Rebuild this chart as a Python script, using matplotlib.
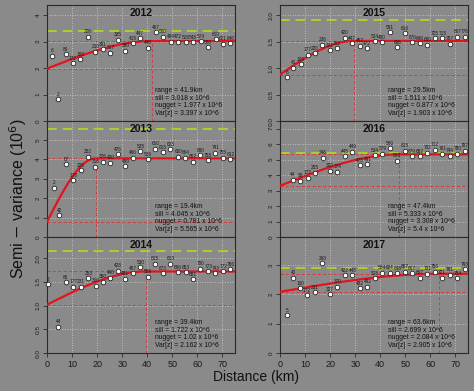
import numpy as np
import matplotlib
matplotlib.use('Agg')
import matplotlib.pyplot as plt
from matplotlib.ticker import MultipleLocator, FormatStrFormatter

plt.rcParams['font.family'] = ['Liberation Sans', 'DejaVu Sans']

# experimental semivariograms (lag km, semivariance 10^6, number of pairs)
lag_2012 = [1.9, 4.5, 7.5, 10.3, 13.3, 16.3, 19.3, 22.3, 25.3, 28.4, 31.3, 34.3, 37.2,
            40.3, 43.3, 46.3, 49.3, 52.3, 55.3, 58.3, 61.3, 64.3, 67.3, 70.3, 73.2]
gamma_2012 = [2.47, 0.82, 2.52, 2.18, 2.34, 3.18, 2.62, 2.70, 2.58, 3.07, 2.65, 2.93, 3.12,
              2.77, 3.35, 3.18, 2.99, 2.99, 2.97, 2.97, 3.02, 2.78, 3.08, 2.92, 2.94]
npairs_2012 = [8, 2, 80, 172, 180, 208, 210, 301, 317, 335, 380, 415, 447,
               448, 467, 500, 494, 472, 526, 548, 574, 580, 610, 621, 646]

lag_2013 = [2.7, 4.9, 7.6, 10.5, 13.6, 16.4, 19.3, 22.4, 25.3, 28.4, 31.3, 34.3, 37.3,
            40.3, 43.2, 46.3, 49.2, 52.3, 55.2, 58.3, 61.2, 64.3, 67.2, 70.1, 73.2]
gamma_2013 = [2.53, 1.12, 3.75, 2.92, 3.44, 4.12, 3.61, 3.87, 3.81, 4.26, 3.64, 4.07, 4.42,
              4.00, 4.55, 4.35, 4.52, 4.12, 4.09, 3.87, 4.21, 3.95, 4.33, 4.09, 4.00]
npairs_2013 = [2, 42, 87, 178, 229, 252, 316, 376, 420, 476, 499, 466, 535,
               539, 610, 615, 623, 600, 664, 652, 690, 758, 741, 755, 812]

lag_2014 = [0.4, 4.5, 7.5, 10.5, 13.5, 16.5, 19.5, 22.4, 25.3, 28.4, 31.3, 34.3, 37.2,
            40.3, 43.2, 46.3, 49.2, 52.3, 55.3, 58.3, 61.2, 64.3, 67.2, 70.3, 73.2]
gamma_2014 = [1.45, 0.55, 1.49, 1.40, 1.40, 1.58, 1.42, 1.50, 1.59, 1.74, 1.57, 1.68, 1.81,
              1.61, 1.89, 1.68, 1.89, 1.71, 1.71, 1.56, 1.78, 1.73, 1.68, 1.73, 1.77]
npairs_2014 = [2, 44, 80, 177, 231, 253, 310, 350, 440, 428, 481, 457, 530,
               556, 615, 673, 613, 666, 653, 681, 700, 773, 743, 772, 786]

lag_2015 = [2.7, 5.3, 8.3, 11.1, 14.0, 16.9, 19.9, 22.8, 25.9, 28.8, 31.9, 34.8, 37.9,
            40.8, 43.7, 46.8, 49.7, 52.8, 55.7, 58.7, 61.7, 64.8, 67.7, 70.7, 73.7]
gamma_2015 = [0.83, 1.01, 1.075, 1.25, 1.28, 1.44, 1.34, 1.375, 1.575, 1.47, 1.425, 1.37, 1.51,
              1.49, 1.675, 1.39, 1.66, 1.49, 1.47, 1.44, 1.56, 1.56, 1.46, 1.59, 1.59]
npairs_2015 = [8, 41, 109, 177, 220, 236, 311, 362, 420, 447, 452, 472, 524,
               490, 591, 606, 616, 676, 648, 660, 725, 715, 787, 807, 776]

lag_2016 = [5.2, 8.1, 11.1, 14.0, 17.1, 20.0, 22.9, 26.0, 28.9, 32.0, 34.9, 38.0,
            40.8, 43.7, 46.8, 49.7, 52.7, 55.7, 58.7, 61.7, 64.8, 67.7, 70.7, 73.7]
gamma_2016 = [3.71, 3.63, 3.84, 4.15, 5.12, 4.28, 4.21, 5.23, 5.51, 4.64, 4.69, 5.29,
              5.36, 5.72, 4.92, 5.57, 5.23, 5.23, 5.44, 5.62, 5.36, 5.25, 5.36, 5.57]
npairs_2016 = [44, 90, 172, 255, 246, 320, 374, 445, 449, 478, 491, 534,
               579, 580, 583, 615, 679, 682, 702, 712, 761, 744, 780, 787]

lag_2017 = [2.7, 5.2, 8.1, 10.8, 13.9, 16.9, 20.0, 22.9, 26.0, 28.9, 31.9, 34.9, 37.9,
            40.8, 43.9, 46.8, 49.7, 52.7, 55.7, 58.8, 61.7, 64.7, 67.7, 70.7, 73.7]
gamma_2017 = [1.28, 2.57, 2.21, 1.96, 2.07, 3.06, 2.00, 2.26, 2.65, 2.65, 2.20, 2.26, 2.55,
              2.74, 2.74, 2.72, 2.77, 2.72, 2.57, 2.70, 2.77, 2.57, 2.67, 2.55, 2.85]
npairs_2017 = [5, 40, 100, 172, 231, 268, 327, 370, 422, 448, 482, 492, 528,
               584, 604, 648, 657, 667, 667, 701, 756, 721, 761, 754, 793]

# fitted spherical models
years = ['2012', '2013', '2014', '2015', '2016', '2017']
range_km = [41.9, 19.4, 39.4, 29.5, 47.4, 63.6]
sill = [3.018, 4.045, 1.722, 1.511, 5.333, 2.699]
nugget = [1.977, 0.781, 1.02, 0.877, 3.308, 2.084]
var_z = [3.397, 5.565, 2.162, 1.903, 5.4, 2.905]

panels = {
    '2012': (lag_2012, gamma_2012, npairs_2012),
    '2013': (lag_2013, gamma_2013, npairs_2013),
    '2014': (lag_2014, gamma_2014, npairs_2014),
    '2015': (lag_2015, gamma_2015, npairs_2015),
    '2016': (lag_2016, gamma_2016, npairs_2016),
    '2017': (lag_2017, gamma_2017, npairs_2017),
}

ytop = [4.38, 5.97, 2.45, 2.19, 7.49, 3.95]
ystep = [1, 1, 0.5, 0.5, 1, 1]
yfmt = ['%d', '%d', '%.1f', '%.1f', '%d', '%d']

bg = '#8a8a8a'
red = '#e3141c'
green = '#a6d22c'


def spherical(h, c0, c, a):
    h = np.asarray(h)
    g = c0 + (c - c0) * (1.5 * h / a - 0.5 * (h / a) ** 3)
    return np.where(h < a, g, c)


fig = plt.figure(figsize=(4.74, 3.91), dpi=100, facecolor=bg)
col_x = [47 / 474, 280 / 474]
w = 188 / 474
row_y = [1 - 121 / 391, 1 - 237 / 391, 1 - 353 / 391]
h = 116 / 391

for i, yr in enumerate(years):
    r, c = i % 3, i // 3
    ax = fig.add_axes([col_x[c], row_y[r], w, h])
    ax.set_facecolor(bg)
    ax.set_xlim(0, 75)
    ax.set_ylim(0, ytop[i])
    ax.xaxis.set_major_locator(MultipleLocator(10))
    ax.yaxis.set_major_locator(MultipleLocator(ystep[i]))
    ax.yaxis.set_major_formatter(FormatStrFormatter(yfmt[i]))
    ax.grid(color='#d2d2d2', linestyle=(0, (1, 2)), linewidth=0.6)
    ax.set_axisbelow(True)
    for s in ax.spines.values():
        s.set_color('#2a2a2a')
        s.set_linewidth(0.8)

    ax.tick_params(axis='y', labelrotation=90, labelsize=4.6, length=3, pad=1.5,
                   color='#2a2a2a', labelcolor='#1a1a1a', width=0.6)
    for lbl in ax.get_yticklabels():
        lbl.set_va('center')
    if r == 2:
        ax.tick_params(axis='x', labelsize=6.5, length=3, pad=2,
                       color='#2a2a2a', labelcolor='#1a1a1a', width=0.6)
    else:
        ax.tick_params(axis='x', length=0, labelbottom=False)

    lag, gam, npairs = panels[yr]

    # reference lines
    ax.axhline(var_z[i], color=green, ls=(0, (5, 3)), lw=1.4, zorder=2)
    ax.axhline(sill[i], color='#d83a3a', ls=(0, (3, 2.5)), lw=0.7, zorder=2)
    ax.axhline(nugget[i], color='#d83a3a', ls=(0, (3, 2.5)), lw=0.7, zorder=2)
    ax.plot([range_km[i], range_km[i]], [0, sill[i]], color='#d83a3a',
            ls=(0, (3, 2.5)), lw=0.7, zorder=2)

    hh = np.linspace(0, 75, 400)
    ax.plot(hh, spherical(hh, nugget[i], sill[i], range_km[i]), color=red, lw=1.6, zorder=3)

    ax.plot(lag, gam, 'o', mfc='white', mec='#222222', ms=3.3, mew=0.6, zorder=5,
            clip_on=False)
    for x, y, n in zip(lag, gam, npairs):
        ax.annotate(str(n), (x, y), xytext=(0, 1.8), textcoords='offset points',
                    ha='center', va='bottom', fontsize=3.4, color='#1a1a1a', zorder=6)

    ax.text(0.5, 0.975, yr, transform=ax.transAxes, ha='center', va='top',
            fontsize=7.5, fontweight='bold', color='#111111')

    info = [f'range = {range_km[i]}km',
            f'sill = {sill[i]} x 10^6',
            f'nugget = {nugget[i]} x 10^6',
            f'Var[z] = {var_z[i]} x 10^6']
    ax.text(43, ytop[i] * 0.035, '\n'.join(info), ha='left', va='bottom',
            fontsize=4.9, color='#111111', linespacing=1.1, zorder=7)

fig.text(18 / 474, 1 - 199 / 391, 'Semi $-$ variance (10$^{6}$)', rotation=90,
         ha='center', va='center', fontsize=11.5, color='#111111')
fig.text(256 / 474, 1 - 377 / 391, 'Distance (km)', ha='center', va='center',
         fontsize=10, color='#111111')

fig.savefig('out.png', dpi=100, facecolor=bg)
plt.close(fig)
